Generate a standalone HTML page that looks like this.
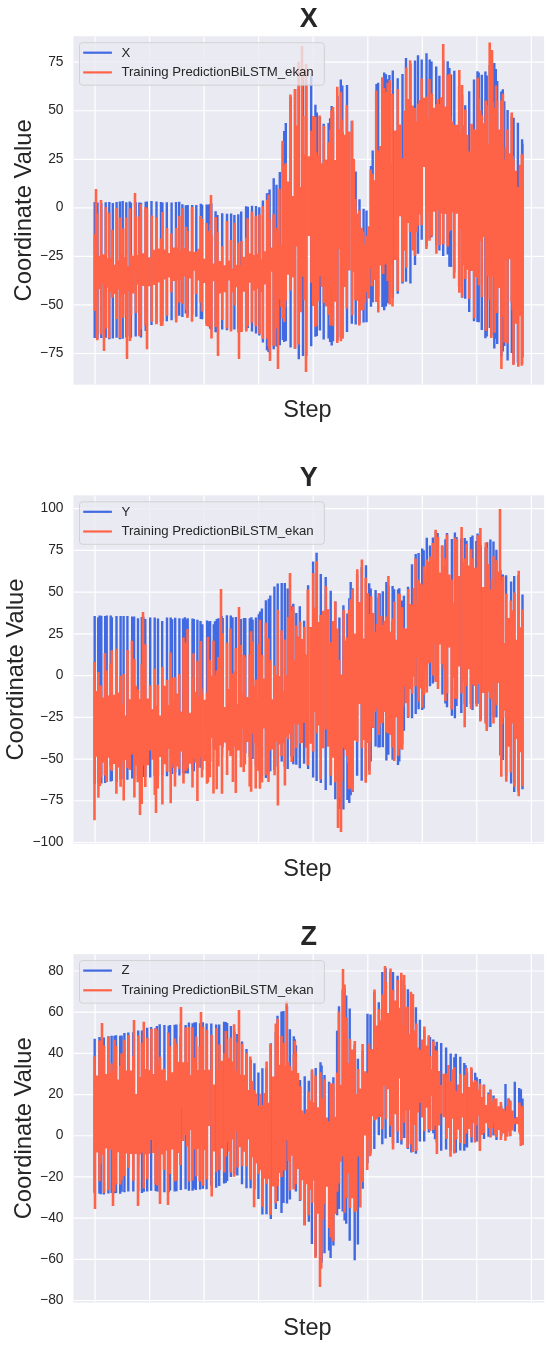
<!DOCTYPE html>
<html><head><meta charset="utf-8"><title>Coordinate plots</title>
<style>
html,body{margin:0;padding:0;background:#fff;}
body{width:550px;height:1345px;overflow:hidden;}
svg{display:block;font-family:"Liberation Sans",Arial,sans-serif;}
</style></head><body>
<svg width="550" height="1345" viewBox="0 0 550 1345">
<rect width="550" height="1345" fill="#ffffff"/>
<clipPath id="c0"><rect x="73.5" y="36.2" width="470.6" height="348.5"/></clipPath>
<rect x="73.5" y="36.2" width="470.6" height="348.5" fill="#EAEAF2"/>
<g stroke="#ffffff" stroke-width="1.2" clip-path="url(#c0)"><line x1="73.5" x2="544.1" y1="62.2" y2="62.2"/><line x1="73.5" x2="544.1" y1="110.75" y2="110.75"/><line x1="73.5" x2="544.1" y1="159.3" y2="159.3"/><line x1="73.5" x2="544.1" y1="207.85" y2="207.85"/><line x1="73.5" x2="544.1" y1="256.4" y2="256.4"/><line x1="73.5" x2="544.1" y1="304.95" y2="304.95"/><line x1="73.5" x2="544.1" y1="353.5" y2="353.5"/><line x1="95.0" x2="95.0" y1="36.2" y2="384.7"/><line x1="149.6" x2="149.6" y1="36.2" y2="384.7"/><line x1="204.1" x2="204.1" y1="36.2" y2="384.7"/><line x1="258.6" x2="258.6" y1="36.2" y2="384.7"/><line x1="313.2" x2="313.2" y1="36.2" y2="384.7"/><line x1="367.8" x2="367.8" y1="36.2" y2="384.7"/><line x1="422.3" x2="422.3" y1="36.2" y2="384.7"/><line x1="476.8" x2="476.8" y1="36.2" y2="384.7"/><line x1="531.4" x2="531.4" y1="36.2" y2="384.7"/></g>
<g clip-path="url(#c0)"><path d="M94.7 202.0V337.9M97.5 202.6V338.8M101.3 203.3V338.0M105.7 202.3V337.7M109.3 201.9V339.3M112.8 203.1V338.6M116.6 202.0V337.8M119.9 201.5V339.2M122.7 201.1V338.8M126.3 202.3V337.6M129.7 201.6V336.2M130.9 202.8V337.8M135.7 202.3V336.6M139.3 202.6V335.5M141.0 202.8V337.4M145.7 201.8V331.1M146.8 201.4V329.7M151.5 201.1V324.9M156.5 201.4V323.7M161.0 202.0V321.9M162.4 202.5V321.5M166.8 202.3V321.2M171.6 202.4V320.2M176.0 202.1V318.5M179.2 201.7V315.7M182.4 204.2V316.9M185.8 205.2V313.5M187.7 205.1V316.2M192.2 205.1V314.7M196.3 204.9V316.8M200.8 203.7V319.1M202.1 204.8V319.3M206.7 204.4V323.9M208.6 204.6V326.0M210.2 204.0V328.7M211.3 203.2V329.7M215.6 211.3V332.2M217.4 214.9V332.0M222.2 213.3V329.5M227.0 213.7V330.2M231.1 213.6V329.6M234.4 214.9V329.4M238.3 214.3V329.3M241.2 211.5V329.0M246.1 206.2V329.5M247.8 206.8V328.1M252.0 205.8V331.4M256.0 206.1V333.6M259.3 207.2V335.4M262.9 200.4V342.6M267.0 193.3V350.2M268.5 193.1V352.1M269.6 189.6V352.4M273.7 178.2V349.3M276.5 184.8V346.4M279.8 172.1V345.2M282.9 143.4V340.1M284.2 131.0V341.9M285.8 122.9V341.0M290.6 96.8V347.6M295.0 89.1V348.8M298.8 86.8V359.2M303.0 76.0V356.0M306.3 83.4V355.9M311.2 75.9V346.2M315.4 104.7V336.8M316.8 112.4V335.9M319.9 116.9V330.6M323.7 123.7V339.6M328.6 123.1V338.6M330.1 118.3V342.1M331.7 105.9V345.5M333.0 112.1V341.2M337.5 95.9V340.0M340.8 79.6V336.9M342.3 85.6V337.1M347.0 85.0V332.0M351.8 121.2V323.7M355.7 171.6V324.6M359.5 199.3V323.7M363.6 208.7V322.4M366.5 210.6V322.3M371.0 166.1V306.8M372.7 150.5V302.2M376.5 84.1V302.0M378.1 82.7V297.0M382.4 83.5V307.0M384.2 72.6V310.3M385.9 74.2V306.4M387.7 79.2V303.2M389.4 75.0V299.3M392.8 70.6V298.1M397.7 78.2V293.7M402.5 73.9V283.4M406.0 58.0V281.7M410.4 63.5V283.5M415.0 60.4V264.9M418.0 55.3V253.8M421.7 59.4V239.8M426.5 53.2V246.8M429.7 59.5V238.4M431.5 61.4V237.3M436.2 66.6V244.8M439.4 75.7V250.6M443.2 60.3V255.9M447.7 61.2V254.4M449.4 68.0V266.8M451.0 74.5V267.0M454.3 70.8V272.6M459.1 86.1V286.5M462.1 95.2V297.7M465.2 105.3V298.7M469.2 91.3V312.0M474.0 79.4V321.3M477.5 71.2V322.1M478.7 72.5V322.2M481.8 74.7V330.1M485.4 71.5V338.2M486.7 75.5V336.5M489.8 65.0V328.0M491.3 58.5V335.4M494.3 63.0V348.5M495.8 68.9V338.8M497.2 80.9V344.1M501.3 91.6V356.5M502.8 89.3V351.5M504.3 101.3V346.0M507.6 110.1V360.4M511.8 116.4V353.0M513.6 117.8V364.0M517.9 122.8V362.5M522.1 139.2V363.7M522.5 143.8V357.5" fill="none" stroke="#4169E1" stroke-width="2.4"/><path d="M94.9 233.9V310.9M96.1 256.1V282.6M97.2 213.4V340.2M99.4 255.8V289.1M101.0 200.1V334.5M103.5 254.2V284.5M105.9 207.1V328.6M107.5 258.3V287.7M109.1 212.7V338.3M111.0 257.7V292.6M112.4 229.7V297.7M114.7 264.7V293.9M116.8 208.0V318.9M118.2 260.2V289.6M119.9 217.6V338.0M121.3 254.0V294.5M123.1 228.6V317.7M124.5 256.9V293.9M126.1 217.4V314.8M128.0 266.0V291.6M130.0 208.2V341.1M130.3 256.3V291.2M131.0 254.2V315.3M133.3 255.7V293.5M136.0 216.6V313.0M137.5 255.0V284.4M139.4 216.6V336.3M140.2 252.6V288.4M140.7 204.0V329.2M143.3 253.3V286.1M145.5 206.9V325.6M146.2 262.3V281.0M147.0 208.5V349.3M149.1 257.2V286.2M151.8 215.5V321.7M154.0 249.8V285.0M156.5 217.3V324.2M158.7 248.5V282.5M161.1 238.6V326.0M161.7 252.0V276.2M162.3 212.1V325.7M164.6 249.6V279.4M167.0 227.9V315.7M169.2 253.1V277.4M171.3 233.5V292.5M173.8 247.6V281.0M176.2 228.0V322.5M177.6 247.5V280.4M179.4 215.7V302.7M180.8 250.2V280.0M182.7 208.3V303.7M184.1 247.7V276.5M186.1 226.7V309.9M186.7 258.3V273.6M187.4 231.1V318.1M189.9 251.2V278.6M192.0 207.0V321.7M194.3 251.9V270.7M196.0 251.5V294.0M198.5 248.8V280.6M200.6 216.1V302.5M201.5 250.4V282.2M202.0 218.7V311.5M204.4 258.7V283.1M206.7 223.0V326.1M207.7 250.9V281.1M208.8 231.0V326.8M209.4 252.4V283.9M210.2 224.6V323.0M210.7 253.2V276.4M211.5 235.1V338.6M213.5 263.6V281.3M215.7 217.0V326.9M216.5 259.9V287.7M217.4 232.1V322.2M219.8 260.9V293.5M222.2 246.3V320.1M224.6 265.3V292.3M227.0 220.9V328.5M229.1 260.4V280.5M231.0 239.9V331.5M232.8 268.4V292.5M234.5 222.7V305.3M236.4 264.8V287.2M238.4 242.7V332.5M239.7 265.3V292.3M241.6 240.9V332.0M243.7 256.7V291.7M246.3 237.8V331.4M247.0 253.1V285.0M247.6 218.3V326.1M249.9 253.3V282.7M251.9 211.5V322.7M254.0 254.9V290.5M255.8 215.8V326.3M257.6 253.7V288.8M259.6 214.7V334.0M261.1 259.4V292.3M262.9 206.3V338.9M265.0 251.3V284.4M267.3 199.7V338.6M267.7 253.3V289.9M268.6 194.4V345.9M269.0 247.2V273.0M269.4 218.6V348.9M271.6 247.6V271.7M273.6 214.3V345.7M275.1 232.9V294.9M276.6 228.0V328.5M278.2 230.7V295.2M279.5 188.7V299.2M281.4 245.0V307.1M282.6 140.8V318.7M283.6 179.4V258.0M284.3 165.7V321.9M285.0 183.4V307.6M285.7 163.2V300.6M288.2 181.6V274.7M290.4 94.6V290.6M292.8 196.0V277.5M295.1 89.0V348.5M296.9 125.6V246.4M298.6 61.7V344.6M300.9 187.1V312.2M303.2 115.9V276.7M304.7 154.2V300.2M306.1 64.0V323.1M308.8 156.2V236.1M311.4 130.8V282.8M313.3 116.0V306.1M315.2 117.1V327.1M316.1 151.7V270.3M316.6 157.8V325.6M318.3 155.1V301.3M319.6 115.6V276.1M321.8 163.3V287.0M323.9 126.0V303.1M326.2 159.5V306.6M328.8 142.2V315.0M329.3 152.3V250.1M330.3 129.7V325.5M330.9 185.1V284.4M331.5 110.6V285.3M332.4 160.1V277.9M333.0 106.9V326.0M335.3 160.0V301.8M337.3 86.7V343.0M339.2 128.9V249.3M340.9 91.8V341.3M341.6 119.5V296.7M342.6 131.4V338.8M344.7 134.8V287.1M346.8 105.0V308.6M349.4 131.5V270.5M352.2 120.4V315.2M353.8 159.0V272.3M355.4 198.9V300.3M357.6 213.7V300.7M359.3 210.2V325.4M361.5 227.8V310.4M363.2 231.5V309.9M365.0 244.4V302.7M366.4 235.8V291.9M368.8 226.3V298.4M370.7 169.4V268.3M371.8 187.7V286.3M372.7 173.8V274.8M374.6 180.2V280.1M376.2 90.6V302.0M377.3 170.1V256.9M378.3 150.4V312.6M380.2 145.9V265.6M382.3 77.2V262.9M383.3 115.2V274.1M384.1 87.9V234.9M385.0 116.9V222.0M385.6 91.9V264.5M386.8 112.2V245.7M387.7 82.9V280.9M388.6 119.2V256.2M389.7 80.2V304.4M391.1 163.8V264.6M392.5 93.8V306.6M395.3 130.5V260.1M397.8 88.9V290.9M400.1 124.4V216.3M402.5 158.2V282.1M404.3 110.8V250.7M406.2 67.6V267.8M408.2 98.9V223.1M410.1 60.2V232.3M412.7 105.5V250.4M415.0 108.0V255.8M416.5 121.3V232.1M418.0 103.7V225.7M419.8 100.0V214.4M421.7 78.5V224.9M424.1 97.8V167.1M426.4 96.6V248.9M428.1 118.3V212.0M429.5 79.0V240.8M430.6 117.1V174.3M431.8 93.6V235.7M433.9 107.8V211.7M436.4 104.2V253.7M437.8 99.0V210.5M439.8 104.1V245.2M441.3 97.2V213.4M443.2 44.1V244.2M445.5 106.6V214.0M447.7 75.1V246.5M448.6 91.5V232.4M449.8 73.7V218.8M450.2 115.9V213.6M450.8 119.9V230.4M452.6 121.5V212.4M454.1 124.9V278.5M456.7 124.8V213.8M459.3 69.9V292.7M460.6 132.4V228.6M462.1 84.9V297.3M463.7 125.3V265.6M465.3 109.6V279.1M467.2 134.7V269.8M469.1 151.5V298.9M471.6 123.8V270.9M474.2 129.2V318.6M475.8 129.8V277.0M477.7 77.7V272.0M478.1 119.4V278.3M478.9 98.2V285.6M480.3 110.5V241.0M481.9 115.3V296.9M483.6 123.3V237.0M485.8 100.4V330.7M486.1 127.4V270.5M486.8 105.2V275.7M488.2 144.0V276.5M489.7 42.4V299.5M490.5 113.5V284.3M491.3 132.2V338.0M492.8 101.6V277.1M494.7 146.8V332.8M495.0 107.8V282.8M496.0 85.5V263.3M496.5 111.2V269.7M497.0 100.9V312.9M499.2 129.6V288.1M501.4 100.5V368.9M502.1 137.7V310.4M502.9 93.8V302.9M503.6 159.9V317.1M504.5 166.1V342.5M505.9 147.3V261.3M507.4 129.4V343.5M509.7 153.2V259.3M511.7 112.5V302.0M512.7 155.8V310.2M513.5 159.6V364.9M515.8 170.7V323.7M518.3 187.0V366.7M520.0 164.7V315.9M521.8 154.3V365.7M522.3 196.0V301.9M522.7 164.5V281.6M96.0 189.0V274.0M135.0 193.0V273.3M211.0 195.0V270.2M302.0 46.0V218.7M492.0 50.0V203.1M104.0 274.0V351.0M127.0 273.7V359.0M218.0 275.7V356.0M239.0 275.5V359.0M270.0 268.8V361.0M278.0 263.0V369.0M306.0 217.4V372.0" fill="none" stroke="#FF6347" stroke-width="2.6"/></g>
<rect x="79.5" y="42.7" width="244.9" height="42.5" rx="3" ry="3" fill="#EAEAF2" fill-opacity="0.8" stroke="#cccccc" stroke-opacity="0.8" stroke-width="1"/>
<line x1="83.2" x2="111.9" y1="52.7" y2="52.7" stroke="#4169E1" stroke-width="2.2"/>
<line x1="83.2" x2="111.9" y1="72.4" y2="72.4" stroke="#FF6347" stroke-width="2.2"/>
<text x="121.4" y="56.5" font-size="13.2" fill="#262626">X</text>
<text x="121.4" y="76.3" font-size="13.2" fill="#262626">Training PredictionBiLSTM_ekan</text>
<text x="63.5" y="65.8" font-size="13.8" fill="#262626" text-anchor="end">75</text>
<text x="63.5" y="114.3" font-size="13.8" fill="#262626" text-anchor="end">50</text>
<text x="63.5" y="162.9" font-size="13.8" fill="#262626" text-anchor="end">25</text>
<text x="63.5" y="211.4" font-size="13.8" fill="#262626" text-anchor="end">0</text>
<text x="63.5" y="260.0" font-size="13.8" fill="#262626" text-anchor="end">−25</text>
<text x="63.5" y="308.6" font-size="13.8" fill="#262626" text-anchor="end">−50</text>
<text x="63.5" y="357.1" font-size="13.8" fill="#262626" text-anchor="end">−75</text>
<text x="308.8" y="27.200000000000003" font-size="27" font-weight="bold" fill="#262626" text-anchor="middle">X</text>
<text x="307.5" y="416.7" font-size="23.5" fill="#262626" text-anchor="middle">Step</text>
<text transform="translate(30.5,210.4) rotate(-90)" font-size="23.8" fill="#262626" text-anchor="middle">Coordinate Value</text>
<clipPath id="c1"><rect x="73.5" y="495.3" width="470.6" height="348.5"/></clipPath>
<rect x="73.5" y="495.3" width="470.6" height="348.5" fill="#EAEAF2"/>
<g stroke="#ffffff" stroke-width="1.2" clip-path="url(#c1)"><line x1="73.5" x2="544.1" y1="508.7" y2="508.7"/><line x1="73.5" x2="544.1" y1="550.42" y2="550.42"/><line x1="73.5" x2="544.1" y1="592.15" y2="592.15"/><line x1="73.5" x2="544.1" y1="633.88" y2="633.88"/><line x1="73.5" x2="544.1" y1="675.6" y2="675.6"/><line x1="73.5" x2="544.1" y1="717.33" y2="717.33"/><line x1="73.5" x2="544.1" y1="759.05" y2="759.05"/><line x1="73.5" x2="544.1" y1="800.77" y2="800.77"/><line x1="73.5" x2="544.1" y1="842.5" y2="842.5"/><line x1="95.0" x2="95.0" y1="495.3" y2="843.8"/><line x1="149.6" x2="149.6" y1="495.3" y2="843.8"/><line x1="204.1" x2="204.1" y1="495.3" y2="843.8"/><line x1="258.6" x2="258.6" y1="495.3" y2="843.8"/><line x1="313.2" x2="313.2" y1="495.3" y2="843.8"/><line x1="367.8" x2="367.8" y1="495.3" y2="843.8"/><line x1="422.3" x2="422.3" y1="495.3" y2="843.8"/><line x1="476.8" x2="476.8" y1="495.3" y2="843.8"/><line x1="531.4" x2="531.4" y1="495.3" y2="843.8"/></g>
<g clip-path="url(#c1)"><path d="M94.7 615.9V783.7M98.2 617.2V783.4M99.6 615.4V780.6M101.3 615.8V783.5M105.2 615.9V783.0M106.7 615.6V782.1M110.7 615.4V781.6M111.8 617.3V781.1M116.5 616.0V781.9M120.6 616.0V779.6M123.6 616.0V779.0M127.4 615.9V779.7M132.2 616.6V778.6M134.1 616.5V778.4M138.0 618.3V776.0M141.8 617.0V777.7M143.4 616.7V777.1M145.3 619.0V776.8M150.2 617.6V777.4M154.7 617.4V775.8M158.0 618.6V776.3M162.2 621.0V775.2M167.0 617.4V776.2M170.7 617.6V772.5M172.1 619.3V774.1M175.2 617.7V772.5M179.4 618.2V775.6M183.1 618.6V773.3M184.9 617.2V773.5M186.4 619.6V772.3M187.7 618.2V773.4M192.5 618.6V770.0M193.8 619.0V771.3M197.4 619.7V768.1M200.5 620.9V767.8M202.3 624.2V769.9M207.1 620.5V770.5M208.1 621.5V771.0M210.1 621.0V761.4M213.8 624.2V747.9M215.0 621.3V745.9M216.8 618.9V745.4M218.5 618.3V744.9M221.7 616.0V744.4M222.7 618.1V744.2M226.9 615.3V743.6M230.8 615.6V746.4M232.5 617.2V745.4M235.9 616.9V747.8M240.9 618.9V749.1M244.0 617.9V751.3M245.3 618.0V753.2M249.8 618.2V756.5M251.4 617.2V755.7M252.6 619.8V759.0M255.9 617.4V765.3M258.8 614.3V770.4M260.0 611.5V773.4M261.9 608.5V775.6M265.9 600.3V777.9M268.8 598.8V772.0M270.3 595.6V771.2M274.4 586.4V769.9M277.7 583.4V766.7M281.7 583.0V761.4M284.8 582.9V766.4M287.7 588.6V769.0M291.4 605.7V756.3M293.3 603.7V764.3M296.3 613.1V764.7M299.8 606.2V768.3M304.1 620.7V763.8M308.1 585.3V769.0M313.1 561.6V777.6M316.6 552.7V780.9M320.8 573.9V782.9M325.7 577.1V790.1M330.7 590.8V785.2M335.3 601.5V799.3M339.4 617.4V808.9M343.4 605.3V809.5M347.4 613.5V799.9M349.3 598.2V803.1M350.7 581.9V795.3M352.5 588.3V792.1M357.1 574.1V775.7M361.7 566.9V780.8M366.0 565.2V776.6M369.2 583.2V770.5M370.7 588.4V761.4M375.6 590.1V746.5M378.5 597.6V747.5M379.7 593.5V747.3M382.8 591.2V747.2M386.4 582.0V760.5M388.3 585.8V754.7M392.6 585.9V759.8M394.1 589.3V759.1M398.0 589.4V765.0M399.3 588.3V761.6M402.2 600.6V744.7M403.9 595.7V730.7M408.0 586.8V717.9M412.0 564.2V718.2M415.7 554.0V714.0M418.6 553.1V709.3M422.2 548.6V710.1M423.7 550.2V708.4M426.8 537.8V687.1M430.0 545.4V686.3M432.9 537.5V683.4M435.8 530.8V681.2M437.6 533.0V679.9M442.4 545.6V694.6M445.4 539.3V703.5M447.0 533.1V707.3M451.9 539.1V715.8M454.9 532.5V718.3M456.5 536.9V706.0M461.3 538.5V713.1M464.7 538.1V704.1M466.5 540.7V707.1M470.9 537.0V704.1M472.5 535.4V709.9M476.3 540.9V704.0M477.6 533.5V703.8M480.7 545.3V719.5M485.7 547.2V722.1M487.1 542.3V727.4M490.4 539.5V726.9M493.5 541.4V717.1M496.4 549.7V717.5M500.4 570.0V755.4M501.5 577.7V759.6M502.8 574.4V760.0M506.1 575.2V776.2M511.1 581.5V783.5M514.2 576.1V792.0M518.5 575.3V791.4M522.5 594.6V789.3" fill="none" stroke="#4169E1" stroke-width="2.4"/><path d="M94.5 661.9V820.2M96.4 691.0V756.7M98.4 672.0V797.7M98.9 696.7V769.6M99.9 702.3V786.1M100.5 687.5V748.1M101.0 685.5V777.5M103.3 697.6V762.7M104.9 652.9V775.4M106.0 696.5V761.2M106.6 670.4V782.0M108.7 695.5V757.7M110.6 663.5V765.9M111.3 700.3V769.2M111.8 650.2V770.9M114.1 694.7V764.0M116.4 648.7V793.8M118.5 692.4V767.4M120.6 675.7V786.7M122.1 704.0V761.5M123.7 674.1V800.6M125.5 715.4V759.9M127.6 650.1V767.9M129.8 699.2V769.9M131.9 640.7V754.6M133.2 712.9V753.4M134.4 658.9V797.4M136.1 685.8V765.8M137.7 689.6V782.3M139.9 699.0V760.1M141.7 664.4V803.9M142.6 689.0V763.4M143.1 661.3V757.6M144.4 689.8V765.5M145.3 644.2V787.0M147.8 698.6V765.2M150.1 685.4V750.5M152.4 709.3V759.8M154.8 668.7V795.0M156.3 705.6V767.3M157.7 684.7V788.6M160.1 715.6V757.0M162.4 667.0V804.5M164.6 685.7V764.3M167.2 679.7V771.8M168.9 705.1V749.1M170.7 652.6V803.2M171.4 698.5V763.8M172.2 677.7V752.6M173.6 700.2V768.1M175.0 677.2V786.4M177.3 693.4V766.4M179.1 673.9V769.0M181.3 711.6V751.6M183.5 637.6V783.6M184.0 687.1V761.7M184.8 661.8V763.0M185.6 717.7V763.2M186.1 642.4V771.0M187.0 686.0V738.3M187.5 629.1V768.3M190.1 712.7V763.8M192.5 677.5V787.6M193.2 692.5V754.4M193.5 653.4V758.8M195.6 691.7V762.8M197.4 660.7V800.9M199.0 696.6V767.0M200.9 641.0V757.6M201.4 688.8V748.8M202.0 693.7V777.4M204.7 699.8V761.1M207.0 692.9V783.7M207.6 715.7V741.2M207.9 636.9V782.3M209.1 699.6V747.3M209.9 660.2V777.2M211.9 675.4V738.1M213.5 640.7V793.5M214.4 700.5V737.5M214.9 684.2V750.1M215.9 675.5V746.3M216.7 670.5V789.3M217.6 679.1V738.6M218.4 657.1V766.4M220.1 673.0V745.5M222.0 643.3V793.8M222.2 701.7V755.2M222.6 633.3V747.4M224.8 707.0V742.6M227.1 642.7V775.0M228.8 688.9V750.6M230.5 628.4V755.9M231.7 673.7V735.9M232.9 689.1V781.9M234.2 671.2V746.4M235.8 648.1V792.9M238.4 704.3V750.6M240.9 645.1V767.2M242.5 693.4V728.4M243.7 655.0V772.1M244.6 680.7V743.7M244.9 656.7V764.4M247.5 696.9V742.0M249.7 654.8V786.5M250.6 678.8V753.6M251.1 631.2V791.8M252.0 672.6V731.7M252.6 641.4V733.7M254.3 685.9V743.3M255.7 679.6V788.6M257.3 698.3V749.5M258.5 643.9V770.7M259.4 698.6V736.1M259.9 619.8V788.7M261.0 669.8V727.8M262.0 655.1V782.5M263.9 678.7V728.5M265.9 622.7V775.2M267.3 674.0V747.0M268.5 638.5V782.0M269.5 697.3V738.4M270.1 660.0V750.5M272.3 699.3V749.4M274.6 665.6V775.2M276.0 674.7V742.0M277.9 609.7V805.5M279.7 676.0V744.4M281.5 630.4V756.0M283.3 691.1V743.4M284.9 639.4V785.6M286.2 675.2V736.8M288.1 617.0V739.5M289.6 676.7V733.9M291.7 610.6V761.9M292.4 648.3V742.3M293.1 606.5V756.3M294.8 660.1V724.2M296.2 625.5V748.2M298.0 636.5V724.6M300.1 621.5V743.4M301.9 639.1V743.0M304.4 626.9V722.9M306.1 654.6V747.7M307.8 589.4V765.2M310.6 626.9V743.7M313.2 573.0V751.6M314.8 607.6V712.1M316.8 560.9V733.3M318.7 622.1V725.6M320.7 614.9V779.5M323.2 610.7V748.3M325.9 586.0V729.5M328.2 609.2V746.8M330.9 642.2V775.7M333.0 620.9V757.7M335.3 601.4V782.2M337.3 628.6V770.5M339.2 660.1V797.4M341.4 674.6V780.7M343.7 609.7V747.9M345.4 640.6V750.0M347.0 637.2V756.1M348.3 640.8V763.2M349.1 610.1V789.3M350.0 625.4V769.5M350.4 599.2V788.2M351.6 650.3V735.6M352.3 589.2V791.5M354.8 633.6V740.6M357.3 569.3V742.1M359.4 601.9V704.0M361.9 559.5V748.2M363.8 638.4V739.9M365.7 577.7V782.8M367.6 593.3V742.9M369.5 622.0V774.8M369.9 614.0V741.5M371.1 596.2V726.9M373.2 612.9V727.9M375.2 631.9V711.7M377.1 623.9V708.6M378.8 593.1V735.1M379.1 620.2V727.2M379.7 624.0V723.5M381.2 616.0V723.5M382.4 625.1V722.7M384.6 620.7V712.1M386.2 616.4V732.6M387.3 628.0V727.0M388.4 576.0V733.6M390.4 631.4V735.1M392.2 621.0V747.6M393.4 618.4V716.8M394.2 601.4V761.1M396.0 639.8V717.4M398.3 593.5V755.7M398.6 642.9V708.7M399.6 594.0V749.1M400.7 623.8V728.8M402.2 607.2V749.7M403.0 638.0V706.9M404.1 628.0V686.4M406.0 628.5V703.3M408.3 588.9V717.6M410.0 604.0V689.1M412.1 604.5V693.8M413.9 587.9V676.8M415.5 558.4V686.4M417.2 603.1V658.4M418.6 579.8V701.8M420.4 583.2V688.6M422.3 584.4V707.8M422.9 595.9V683.9M424.0 566.4V695.0M425.2 573.6V670.2M426.8 559.4V692.4M428.4 561.6V663.5M430.2 556.6V662.7M431.5 584.3V653.2M432.9 543.1V675.4M434.4 559.4V643.6M435.7 529.8V681.9M436.7 582.2V644.9M438.0 537.0V689.1M440.0 572.5V644.4M442.0 545.5V663.9M443.9 566.0V669.3M445.4 558.3V700.9M446.2 574.1V682.0M447.0 534.4V693.2M449.4 574.6V647.5M451.6 579.5V709.6M453.4 603.3V677.5M455.0 537.5V698.7M455.7 587.9V679.4M456.9 539.4V699.0M458.9 575.9V666.6M461.6 527.1V693.2M463.0 562.0V681.6M464.7 558.6V727.2M465.6 579.6V662.0M466.7 544.0V686.2M468.7 565.6V669.2M471.0 548.9V708.9M471.7 580.9V676.8M472.8 558.4V684.7M474.4 567.7V686.1M476.6 567.6V706.4M477.0 584.3V683.2M477.9 535.2V684.0M479.2 571.6V670.4M480.4 528.1V721.4M483.2 587.0V693.0M485.8 542.5V724.1M486.4 593.2V697.9M486.7 547.9V731.0M488.7 564.0V691.7M490.1 589.7V698.2M491.9 579.3V699.8M493.5 556.3V723.4M495.0 589.0V682.3M496.5 560.3V705.2M498.4 571.4V682.9M500.5 605.2V683.6M500.9 599.3V718.9M501.3 580.3V776.7M502.1 604.1V724.1M503.1 576.4V718.1M504.5 642.9V710.8M506.3 593.6V781.8M508.6 618.0V746.8M510.9 600.4V772.6M512.6 610.3V723.6M514.5 592.6V786.7M516.3 639.8V738.9M518.7 570.7V796.3M520.5 627.3V752.2M522.3 609.6V786.3M143.0 612.0V732.6M221.0 589.0V717.1M239.0 607.0V715.5M290.0 573.0V696.7M500.0 509.0V664.0M140.0 732.6V815.0M156.0 732.3V813.0M338.0 709.2V828.0M341.0 709.2V832.0" fill="none" stroke="#FF6347" stroke-width="2.6"/></g>
<rect x="79.5" y="501.8" width="244.9" height="42.5" rx="3" ry="3" fill="#EAEAF2" fill-opacity="0.8" stroke="#cccccc" stroke-opacity="0.8" stroke-width="1"/>
<line x1="83.2" x2="111.9" y1="511.8" y2="511.8" stroke="#4169E1" stroke-width="2.2"/>
<line x1="83.2" x2="111.9" y1="531.5" y2="531.5" stroke="#FF6347" stroke-width="2.2"/>
<text x="121.4" y="515.6" font-size="13.2" fill="#262626">Y</text>
<text x="121.4" y="535.4" font-size="13.2" fill="#262626">Training PredictionBiLSTM_ekan</text>
<text x="63.5" y="512.3" font-size="13.8" fill="#262626" text-anchor="end">100</text>
<text x="63.5" y="554.0" font-size="13.8" fill="#262626" text-anchor="end">75</text>
<text x="63.5" y="595.8" font-size="13.8" fill="#262626" text-anchor="end">50</text>
<text x="63.5" y="637.5" font-size="13.8" fill="#262626" text-anchor="end">25</text>
<text x="63.5" y="679.2" font-size="13.8" fill="#262626" text-anchor="end">0</text>
<text x="63.5" y="720.9" font-size="13.8" fill="#262626" text-anchor="end">−25</text>
<text x="63.5" y="762.6" font-size="13.8" fill="#262626" text-anchor="end">−50</text>
<text x="63.5" y="804.4" font-size="13.8" fill="#262626" text-anchor="end">−75</text>
<text x="63.5" y="846.1" font-size="13.8" fill="#262626" text-anchor="end">−100</text>
<text x="308.8" y="486.3" font-size="27" font-weight="bold" fill="#262626" text-anchor="middle">Y</text>
<text x="307.5" y="875.8" font-size="23.5" fill="#262626" text-anchor="middle">Step</text>
<text transform="translate(22.8,669.5) rotate(-90)" font-size="23.8" fill="#262626" text-anchor="middle">Coordinate Value</text>
<clipPath id="c2"><rect x="73.5" y="954.1" width="470.6" height="348.5"/></clipPath>
<rect x="73.5" y="954.1" width="470.6" height="348.5" fill="#EAEAF2"/>
<g stroke="#ffffff" stroke-width="1.2" clip-path="url(#c2)"><line x1="73.5" x2="544.1" y1="971.0" y2="971.0"/><line x1="73.5" x2="544.1" y1="1012.19" y2="1012.19"/><line x1="73.5" x2="544.1" y1="1053.38" y2="1053.38"/><line x1="73.5" x2="544.1" y1="1094.56" y2="1094.56"/><line x1="73.5" x2="544.1" y1="1135.75" y2="1135.75"/><line x1="73.5" x2="544.1" y1="1176.94" y2="1176.94"/><line x1="73.5" x2="544.1" y1="1218.12" y2="1218.12"/><line x1="73.5" x2="544.1" y1="1259.31" y2="1259.31"/><line x1="73.5" x2="544.1" y1="1300.5" y2="1300.5"/><line x1="95.0" x2="95.0" y1="954.1" y2="1302.6"/><line x1="149.6" x2="149.6" y1="954.1" y2="1302.6"/><line x1="204.1" x2="204.1" y1="954.1" y2="1302.6"/><line x1="258.6" x2="258.6" y1="954.1" y2="1302.6"/><line x1="313.2" x2="313.2" y1="954.1" y2="1302.6"/><line x1="367.8" x2="367.8" y1="954.1" y2="1302.6"/><line x1="422.3" x2="422.3" y1="954.1" y2="1302.6"/><line x1="476.8" x2="476.8" y1="954.1" y2="1302.6"/><line x1="531.4" x2="531.4" y1="954.1" y2="1302.6"/></g>
<g clip-path="url(#c2)"><path d="M94.7 1038.8V1193.3M99.4 1037.0V1193.5M100.7 1038.2V1194.2M103.8 1037.5V1194.6M108.4 1036.3V1193.6M111.6 1035.8V1193.0M114.5 1035.8V1193.3M116.0 1035.2V1193.1M120.2 1035.7V1193.8M121.6 1035.4V1191.7M124.4 1032.9V1192.3M128.3 1032.5V1191.5M133.3 1032.3V1191.6M138.2 1030.4V1191.0M142.0 1030.4V1192.9M143.8 1030.1V1191.8M147.2 1027.7V1191.4M151.1 1027.0V1190.7M155.7 1028.0V1191.0M156.9 1025.9V1191.6M159.7 1024.2V1192.2M164.4 1025.1V1192.3M168.7 1025.8V1192.3M170.0 1024.9V1190.5M174.7 1024.8V1191.5M176.4 1024.5V1191.2M180.8 1023.4V1189.9M185.6 1024.9V1189.3M188.9 1022.4V1190.7M192.6 1023.3V1190.7M194.5 1022.5V1188.7M195.8 1022.3V1190.0M200.1 1023.2V1189.4M202.9 1022.3V1188.8M206.6 1023.4V1189.3M211.3 1023.6V1185.4M216.2 1024.4V1187.8M219.2 1024.5V1185.9M224.1 1021.7V1183.6M225.7 1022.1V1183.0M227.1 1023.1V1181.0M230.9 1026.1V1177.0M234.4 1031.4V1174.5M237.3 1034.1V1175.4M242.0 1041.5V1184.2M246.5 1049.0V1188.3M250.6 1059.6V1188.2M254.4 1063.3V1189.3M258.4 1072.5V1198.9M262.4 1068.2V1214.4M266.5 1068.3V1214.2M270.8 1043.2V1219.1M275.8 1031.4V1209.0M277.5 1015.8V1200.9M281.5 1011.4V1213.0M283.5 1010.9V1202.9M287.0 1006.3V1203.4M289.9 1029.3V1199.5M293.8 1036.3V1188.4M294.8 1039.2V1187.9M295.9 1045.2V1191.5M300.0 1079.9V1201.0M304.7 1076.2V1225.0M308.8 1080.8V1221.8M311.9 1071.0V1244.1M315.7 1068.0V1256.0M320.5 1062.3V1266.7M321.6 1065.5V1263.1M324.5 1075.1V1253.3M329.1 1081.7V1250.4M330.6 1084.6V1258.0M333.4 1077.3V1245.5M337.1 1030.7V1215.3M339.0 1006.3V1209.0M342.7 989.4V1211.6M344.6 988.5V1220.6M346.2 995.5V1223.7M349.7 1008.5V1240.7M354.7 1045.1V1260.3M357.9 1058.8V1244.5M362.7 1050.9V1188.7M367.5 1013.8V1163.2M370.5 1014.4V1153.6M374.3 992.3V1148.9M378.8 1002.2V1135.2M382.3 971.9V1144.3M385.6 968.0V1138.4M390.2 972.0V1137.1M393.0 971.9V1143.5M397.6 975.7V1143.1M401.4 979.9V1144.6M404.3 985.1V1138.0M407.9 989.3V1149.1M411.3 996.3V1152.6M412.8 1005.4V1148.7M415.9 1007.3V1153.8M419.9 1019.7V1141.5M424.2 1030.3V1141.4M428.9 1037.8V1132.4M430.0 1037.1V1127.5M433.3 1039.6V1133.2M435.0 1045.8V1139.3M436.8 1041.7V1142.6M441.2 1043.1V1150.8M446.1 1047.5V1149.4M450.7 1053.5V1150.9M454.3 1057.2V1151.2M455.8 1053.7V1152.8M460.3 1056.8V1150.4M464.3 1062.9V1150.7M465.6 1065.3V1146.4M467.0 1072.4V1147.5M471.6 1069.3V1142.6M475.2 1072.7V1140.8M476.7 1077.2V1141.4M479.9 1079.1V1142.0M484.0 1084.4V1138.9M488.5 1092.4V1136.8M490.4 1089.6V1137.3M493.5 1095.6V1135.6M496.5 1109.5V1140.1M501.3 1105.7V1136.3M505.5 1084.0V1120.9M508.7 1098.6V1129.8M510.2 1100.5V1136.3M514.8 1081.8V1131.4M519.2 1088.0V1119.7M520.9 1089.3V1139.8M522.5 1098.5V1133.7" fill="none" stroke="#4169E1" stroke-width="2.4"/><path d="M94.5 1056.3V1191.4M97.1 1075.4V1152.4M99.5 1040.6V1181.3M100.1 1072.6V1150.4M100.8 1049.9V1163.5M102.3 1076.0V1154.8M104.1 1045.6V1193.0M106.1 1074.1V1148.6M108.4 1036.6V1190.2M110.0 1072.9V1149.0M111.5 1063.3V1149.9M113.0 1071.3V1158.2M114.5 1039.7V1191.4M115.2 1073.0V1157.9M116.0 1046.1V1184.5M118.1 1079.4V1152.3M120.2 1065.9V1184.5M120.9 1072.3V1156.4M121.5 1053.3V1180.3M123.0 1074.0V1150.3M124.1 1039.8V1175.9M126.3 1070.5V1153.5M128.6 1034.9V1167.7M130.8 1070.5V1154.1M133.3 1056.6V1180.7M135.7 1093.9V1153.9M138.3 1035.6V1165.6M140.1 1077.1V1154.5M141.9 1042.9V1152.4M142.9 1068.4V1140.8M143.8 1021.7V1188.6M145.5 1069.0V1154.5M147.3 1037.8V1179.2M149.2 1070.0V1153.8M151.5 1028.7V1140.0M153.4 1074.0V1153.0M155.6 1028.3V1184.1M156.3 1066.3V1152.6M157.2 1029.9V1185.6M158.3 1064.8V1147.5M160.0 1056.7V1177.8M162.1 1069.8V1154.4M164.0 1068.7V1169.9M166.5 1080.4V1150.7M168.5 1032.6V1172.3M169.3 1064.9V1138.2M169.7 1046.3V1173.9M172.3 1072.3V1149.4M174.9 1038.6V1181.3M175.6 1064.7V1127.8M176.6 1043.4V1180.8M178.6 1061.8V1153.1M180.4 1036.8V1165.0M183.2 1062.2V1141.1M185.7 1027.5V1135.0M187.2 1062.4V1146.4M189.0 1026.9V1181.4M190.8 1075.0V1129.9M192.6 1027.2V1180.5M193.6 1065.5V1141.2M194.6 1057.8V1149.5M195.2 1086.7V1144.2M196.2 1036.6V1176.5M198.0 1070.0V1149.1M199.7 1046.4V1181.6M201.5 1061.8V1145.1M203.0 1027.1V1185.8M204.7 1070.0V1150.3M206.9 1029.7V1179.5M209.0 1069.8V1125.9M211.7 1034.9V1196.4M213.7 1084.4V1151.4M216.5 1028.1V1172.2M217.7 1070.0V1155.0M219.5 1044.6V1170.2M221.7 1060.7V1148.4M224.4 1053.3V1172.4M224.9 1055.2V1152.8M225.8 1031.1V1156.6M226.4 1060.2V1140.4M227.1 1039.2V1142.1M229.0 1057.8V1151.5M230.7 1037.5V1172.6M232.6 1061.6V1139.6M234.1 1024.3V1176.8M235.8 1070.6V1131.6M237.7 1042.2V1167.6M239.6 1074.4V1147.3M242.1 1043.8V1165.9M244.3 1075.0V1151.8M246.4 1052.8V1166.4M248.6 1089.9V1139.4M250.3 1056.5V1179.7M252.5 1081.0V1157.5M254.1 1090.1V1207.2M256.4 1093.5V1163.6M258.4 1105.8V1174.1M260.4 1093.7V1170.3M262.6 1105.0V1207.0M264.4 1092.9V1178.7M266.6 1061.6V1184.3M268.7 1102.7V1179.2M270.5 1044.1V1215.0M273.3 1076.4V1186.5M275.8 1023.6V1203.3M276.6 1078.0V1169.4M277.7 1018.7V1186.0M279.5 1064.8V1173.1M281.5 1035.8V1177.0M282.5 1054.6V1165.6M283.6 1042.8V1170.6M285.2 1065.5V1170.6M286.6 1000.8V1140.5M288.5 1062.0V1161.0M290.0 1066.3V1190.4M291.9 1070.5V1155.7M293.9 1054.0V1189.5M294.3 1069.7V1166.3M294.9 1040.7V1158.4M295.4 1066.7V1154.1M295.6 1051.4V1184.3M298.0 1073.0V1168.9M300.4 1086.6V1200.3M302.4 1110.6V1180.2M304.5 1113.4V1225.5M306.7 1109.2V1184.3M308.7 1091.6V1215.2M310.3 1100.6V1190.1M312.1 1069.3V1203.0M313.8 1102.5V1180.4M315.5 1075.4V1258.1M318.1 1107.2V1213.8M320.4 1072.2V1255.4M321.0 1114.7V1227.8M321.2 1097.6V1268.8M323.0 1099.3V1219.6M324.1 1079.2V1203.9M326.8 1117.6V1186.7M329.3 1121.2V1228.0M329.9 1122.3V1221.3M330.7 1083.2V1237.3M332.0 1113.1V1226.7M333.3 1083.6V1241.3M335.3 1116.8V1213.9M337.2 1072.7V1191.7M338.1 1110.1V1155.8M338.9 1011.6V1183.2M340.9 1084.7V1161.7M343.0 968.9V1156.6M343.7 1035.1V1151.5M344.5 984.6V1212.8M345.4 1035.6V1178.9M346.6 1017.2V1198.3M348.0 1063.1V1173.8M350.0 1038.9V1207.9M352.2 1049.4V1198.2M354.8 1041.0V1211.9M356.3 1094.1V1211.3M358.2 1069.1V1156.4M360.3 1088.5V1207.5M362.6 1044.0V1181.9M365.1 1071.3V1135.4M367.2 1073.1V1169.9M369.0 1043.5V1139.5M370.1 1049.2V1156.2M372.4 1049.0V1116.3M374.5 989.5V1120.6M376.5 1025.4V1119.6M379.1 1009.1V1117.1M380.5 1020.3V1116.9M382.3 994.4V1129.2M383.9 1022.0V1085.9M385.9 982.3V1119.2M387.9 1012.9V1089.3M390.5 968.6V1125.8M391.6 1024.3V1101.1M393.0 990.1V1149.6M395.3 1000.6V1114.2M397.7 980.0V1131.4M399.5 1007.8V1078.5M401.3 972.7V1140.3M402.8 1024.8V1116.5M404.1 975.1V1122.7M406.1 1007.5V1110.8M407.5 1006.8V1147.9M409.6 1033.9V1109.7M410.9 991.7V1144.6M412.1 1028.6V1118.6M412.9 993.9V1151.9M414.4 1030.5V1124.9M416.3 1023.5V1151.0M417.9 1047.5V1112.5M419.5 1049.7V1102.8M422.0 1039.5V1117.4M424.4 1026.5V1131.3M426.5 1045.6V1107.7M428.8 1035.2V1128.9M429.5 1066.7V1119.3M430.1 1056.0V1130.9M431.7 1069.2V1095.9M433.4 1041.3V1130.1M434.1 1057.4V1116.9M435.3 1050.5V1126.0M435.9 1076.1V1117.1M436.9 1050.5V1153.9M439.0 1070.9V1125.6M440.9 1084.9V1113.7M443.7 1073.8V1117.2M446.5 1073.5V1139.1M448.4 1065.0V1128.1M450.5 1081.2V1156.7M452.5 1069.3V1118.7M454.3 1067.3V1153.5M455.0 1090.6V1109.8M456.2 1091.5V1139.6M458.1 1084.6V1129.7M460.3 1074.1V1143.0M462.3 1093.3V1117.4M464.5 1075.3V1144.1M464.9 1090.5V1111.5M465.7 1083.3V1129.6M466.3 1080.3V1133.4M466.6 1068.1V1130.6M469.3 1087.1V1129.0M471.3 1067.2V1137.2M473.4 1082.0V1123.2M475.0 1080.1V1142.6M476.0 1088.6V1123.4M476.6 1081.6V1125.2M478.3 1089.5V1116.1M479.9 1083.5V1151.1M482.0 1097.1V1135.1M483.7 1085.3V1133.1M486.3 1105.0V1123.2M488.6 1094.2V1126.7M489.4 1108.7V1128.2M490.3 1089.9V1137.2M492.0 1101.7V1128.2M493.8 1098.2V1122.8M495.0 1116.1V1133.9M496.2 1098.6V1137.0M498.9 1106.2V1129.9M500.9 1102.0V1139.9M503.4 1108.4V1133.4M505.4 1110.9V1140.7M507.1 1106.0V1136.7M508.4 1098.4V1131.7M509.5 1113.5V1130.6M510.1 1101.1V1136.1M512.5 1110.5V1130.5M514.5 1118.3V1124.3M517.0 1117.0V1124.3M519.4 1102.5V1132.5M520.0 1105.4V1134.2M520.8 1106.5V1145.9M521.7 1110.4V1123.5M522.7 1106.3V1145.1M102.0 1023.0V1115.6M134.0 1020.0V1112.3M181.0 1007.0V1107.1M201.0 1012.0V1106.1M239.0 1010.0V1104.7M385.0 966.0V1056.7M95.0 1116.0V1209.0M113.0 1114.8V1206.0M138.0 1111.7V1206.0M160.0 1108.3V1204.0M168.0 1107.8V1205.0M320.0 1165.1V1287.0" fill="none" stroke="#FF6347" stroke-width="2.6"/></g>
<rect x="79.5" y="960.6" width="244.9" height="42.5" rx="3" ry="3" fill="#EAEAF2" fill-opacity="0.8" stroke="#cccccc" stroke-opacity="0.8" stroke-width="1"/>
<line x1="83.2" x2="111.9" y1="970.6" y2="970.6" stroke="#4169E1" stroke-width="2.2"/>
<line x1="83.2" x2="111.9" y1="990.3" y2="990.3" stroke="#FF6347" stroke-width="2.2"/>
<text x="121.4" y="974.4" font-size="13.2" fill="#262626">Z</text>
<text x="121.4" y="994.2" font-size="13.2" fill="#262626">Training PredictionBiLSTM_ekan</text>
<text x="63.5" y="974.6" font-size="13.8" fill="#262626" text-anchor="end">80</text>
<text x="63.5" y="1015.8" font-size="13.8" fill="#262626" text-anchor="end">60</text>
<text x="63.5" y="1057.0" font-size="13.8" fill="#262626" text-anchor="end">40</text>
<text x="63.5" y="1098.2" font-size="13.8" fill="#262626" text-anchor="end">20</text>
<text x="63.5" y="1139.3" font-size="13.8" fill="#262626" text-anchor="end">0</text>
<text x="63.5" y="1180.5" font-size="13.8" fill="#262626" text-anchor="end">−20</text>
<text x="63.5" y="1221.7" font-size="13.8" fill="#262626" text-anchor="end">−40</text>
<text x="63.5" y="1262.9" font-size="13.8" fill="#262626" text-anchor="end">−60</text>
<text x="63.5" y="1304.1" font-size="13.8" fill="#262626" text-anchor="end">−80</text>
<text x="308.8" y="945.1" font-size="27" font-weight="bold" fill="#262626" text-anchor="middle">Z</text>
<text x="307.5" y="1334.6" font-size="23.5" fill="#262626" text-anchor="middle">Step</text>
<text transform="translate(30.5,1128.3) rotate(-90)" font-size="23.8" fill="#262626" text-anchor="middle">Coordinate Value</text>
</svg>
</body></html>
